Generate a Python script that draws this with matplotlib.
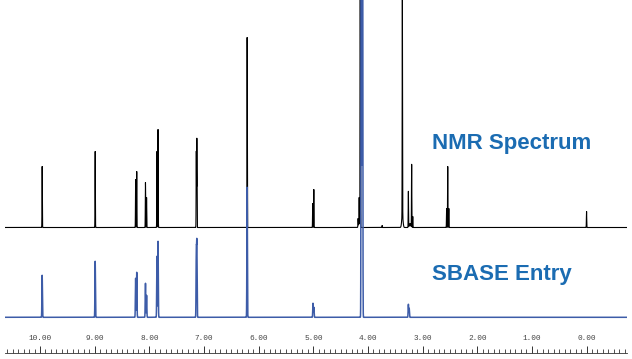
import numpy as np
import matplotlib
matplotlib.use("Agg")
import matplotlib.pyplot as plt
from matplotlib.ticker import MultipleLocator, FormatStrFormatter

# ---- data (chemical shift in ppm, relative peak intensity) ----
nmr_ppm = [9.96, 8.99, 8.25, 8.23, 8.07, 8.05, 7.86, 7.84, 7.14, 7.13, 6.21,
           5.01, 4.99, 4.18, 4.16, 4.14, 3.74, 3.37, 3.26, 3.20, 3.18,
           2.56, 2.54, 2.52, 0.00]
nmr_int = [61, 76, 48, 56, 45, 30, 76, 98, 76, 89, 190,
           24, 38, 8, 26, 600, 2, 222, 36, 63, 11,
           19, 61, 19, 16]
# broad components (water hump etc.)
nmr_broad_ppm = [3.37, 4.16, 3.23]
nmr_broad_int = [12, 4, 4]

sbase_ppm = [9.96, 8.99, 8.25, 8.23, 8.07, 8.05, 7.86, 7.84, 7.14, 7.13, 6.21,
             5.005, 4.99, 4.12, 4.10, 3.26, 3.245]
sbase_int = [42, 56, 39, 45, 34, 22, 61, 76, 64, 72, 130,
             14, 10, 900, 900, 13, 9]

W_PX, H_PX = 632, 359
fig = plt.figure(figsize=(W_PX / 100, H_PX / 100), dpi=100)
fig.patch.set_facecolor("white")

# axes spans the drawn axis (pixel x 5..627), full height; y in pixel-like units
ax = fig.add_axes([5 / W_PX, 0, 622 / W_PX, 1])
x_left, x_right = 10.64, -0.74
ax.set_xlim(x_left, x_right)
ax.set_ylim(0, H_PX)
ax.patch.set_alpha(0)

grid = np.linspace(10.8, -0.9, 46801)


def spectrum(pos, ints, s):
    y = np.zeros_like(grid)
    for p, h in zip(pos, ints):
        y += h * np.exp(-0.5 * ((grid - p) / s) ** 2)
    return y


upper = spectrum(nmr_ppm, nmr_int, 0.003) + spectrum(nmr_broad_ppm, nmr_broad_int, 0.012)
lower = spectrum(sbase_ppm, sbase_int, 0.0045)

upper_base = H_PX - 227.5
lower_base = H_PX - 317.3

ax.plot(grid, upper + upper_base, color="black", lw=0.8, zorder=2)
ax.plot(grid, lower + lower_base, color="#3d5ca8", lw=1.1, zorder=3)

# ppm axis drawn at the bottom with ticks pointing up and labels above
for s in ["left", "right", "bottom"]:
    ax.spines[s].set_visible(False)
ax.spines["top"].set_position(("data", H_PX - 353.3))
ax.spines["top"].set_color("#333333")
ax.spines["top"].set_linewidth(0.6)
ax.xaxis.tick_top()
ax.xaxis.set_major_locator(MultipleLocator(1.0))
ax.xaxis.set_minor_locator(MultipleLocator(0.1))
ax.xaxis.set_major_formatter(FormatStrFormatter("%.2f"))
ax.tick_params(axis="x", which="major", direction="out", length=5.2, width=0.7,
               color="#333333", pad=3.2, labelsize=5.6, labelcolor="#444444")
ax.tick_params(axis="x", which="minor", direction="out", length=2.6, width=0.6,
               color="#333333")
for lab in ax.get_xticklabels():
    lab.set_family("Liberation Mono")
ax.set_yticks([])

text_color = "#1b6cb2"
fig.text(432 / W_PX, 1 - 149 / H_PX, "NMR Spectrum", color=text_color,
         fontsize=16, fontweight="bold", family="Liberation Sans",
         ha="left", va="baseline")
fig.text(432.5 / W_PX, 1 - 280 / H_PX, "SBASE Entry", color=text_color,
         fontsize=16, fontweight="bold", family="Liberation Sans",
         ha="left", va="baseline")

fig.savefig("out.png", dpi=100, facecolor="white")
